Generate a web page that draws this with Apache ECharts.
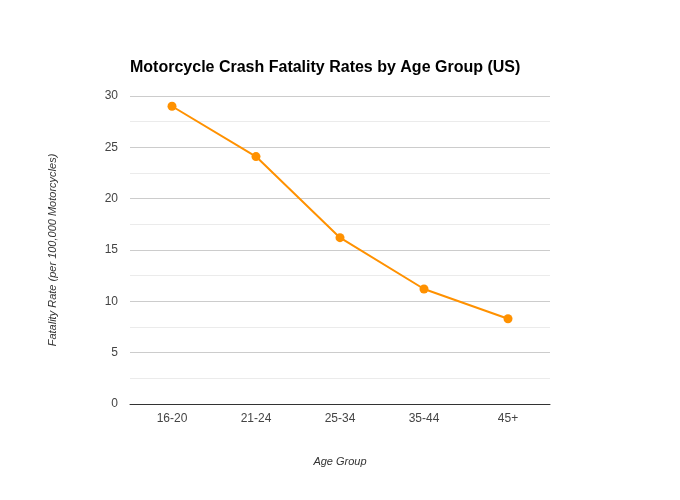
<!DOCTYPE html>
<html><head><meta charset="utf-8">
<script src="https://cdn.jsdelivr.net/npm/echarts@6/dist/echarts.min.js"></script>
<style>html,body{margin:0;padding:0;background:#fff}#c{width:680px;height:500px}</style>
</head><body><div id="c"></div>
<script>
const titleText = 'Motorcycle Crash Fatality Rates by Age Group (US)';
const categories = ['16-20', '21-24', '25-34', '35-44', '45+'];
const fatalityRates = [29.0, 24.1, 16.2, 11.2, 8.3];
const yTicks = [0, 5, 10, 15, 20, 25, 30];
const xName = 'Age Group';
const yName = 'Fatality Rate (per 100,000 Motorcycles)';

const chart = echarts.init(document.getElementById('c'));
chart.setOption({
  animation: false,
  title: {
    text: titleText, left: 125, top: 55,
    textStyle: {fontFamily: 'Liberation Sans, Arial', fontSize: 16, fontWeight: 'bold', color: '#000'}
  },
  grid: {left: 130, right: 130, top: 96, bottom: 96, containLabel: false},
  xAxis: {
    type: 'category', data: categories, boundaryGap: true,
    name: xName, nameLocation: 'middle', nameGap: 52,
    nameTextStyle: {fontFamily: 'Liberation Sans, Arial', fontSize: 11, fontStyle: 'italic', color: '#333'},
    axisLine: {lineStyle: {color: '#333', width: 1}},
    axisTick: {show: false},
    axisLabel: {fontFamily: 'Liberation Sans, Arial', fontSize: 12, color: '#444', margin: 9}
  },
  yAxis: {
    type: 'value', min: yTicks[0], max: yTicks[yTicks.length - 1], interval: 5,
    name: yName, nameLocation: 'middle', nameGap: 72, nameRotate: 90,
    nameTextStyle: {fontFamily: 'Liberation Sans, Arial', fontSize: 11, fontStyle: 'italic', color: '#333'},
    axisLine: {show: false}, axisTick: {show: false},
    axisLabel: {fontFamily: 'Liberation Sans, Arial', fontSize: 12, color: '#444', margin: 12},
    splitLine: {lineStyle: {color: '#cccccc', width: 1}},
    minorTick: {show: false, splitNumber: 2},
    minorSplitLine: {show: true, lineStyle: {color: '#ebebeb', width: 1}}
  },
  series: [{
    type: 'line', data: fatalityRates,
    symbol: 'circle', symbolSize: 9,
    lineStyle: {color: '#ff9100', width: 2},
    itemStyle: {color: '#ff9100'}
  }]
});
</script></body></html>
